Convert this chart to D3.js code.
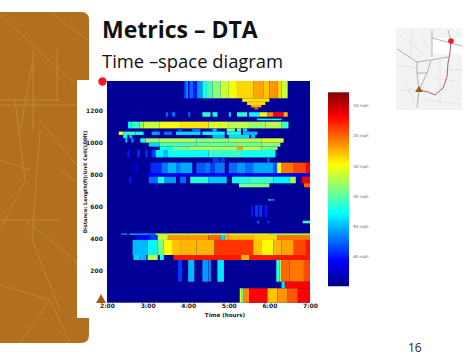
<!DOCTYPE html>
<html lang="en">
<head>
<meta charset="utf-8">
<script src="https://d3js.org/d3.v7.min.js"></script>
<style>
  html, body { margin: 0; padding: 0; background: #fff; overflow: hidden; }
  text { font-family: "Open Sans", sans-serif; }
  .tick text { font-family: "DejaVu Sans", sans-serif; font-weight: bold; }
</style>
</head>
<body>
<script>
// tick labels
const timeTicks = [2, 3, 4, 5, 6, 7];
const distTicks = [200, 400, 600, 800, 1000, 1200];
const speedTicks = [10, 20, 30, 40, 50, 60];

// each congested stretch: [distance from, distance to]
const bandRanges = [
    [1277, 1385], [1255, 1277], [1235, 1255], [1220, 1235], [1208, 1220],
    [1162, 1190], [1140, 1150], [1089, 1131], [1069, 1089], [1048, 1069],
    [1027, 1048], [1000, 1027], [975, 1000], [954, 975], [908, 954],
    [875, 908], [808, 875], [787, 808], [746, 787], [721, 746],
    [637, 648], [537, 610], [496, 512], [423, 433], [392, 423],
    [298, 392], [267, 298], [131, 267], [90, 131], [0, 90]
];

// [hour from, hour to, speed mph], same order as bandRanges
const bandSpeeds = [
    [[3.89,3.95,58],[3.95,4.0,52],[4.0,4.03,63],[4.03,4.13,55],[4.13,4.22,60],[4.22,4.35,52],[4.35,4.46,44],[4.46,4.6,41],[4.6,4.8,37],[4.8,5.0,33],[5.0,5.2,30],[5.2,5.6,27],[5.6,5.85,24],[5.85,6.0,26],[6.0,6.2,23],[6.2,6.3,27],[6.3,6.45,33]],
    [[5.33,6.0,28]],
    [[5.45,5.9,27]],
    [[5.55,5.8,24]],
    [[5.63,5.72,20]],
    [[3.45,3.5,55],[3.6,3.68,55],[4.0,4.05,55],[4.35,4.55,43],[4.6,4.72,44],[5.0,5.05,48],[5.2,5.45,43],[5.5,5.75,46],[5.75,5.95,31],[5.95,6.1,22],[6.1,6.35,14],[6.35,6.45,25]],
    [[5.7,6.3,46]],
    [[2.52,2.6,45],[2.6,2.8,42],[2.8,2.9,36],[2.9,3.3,33],[3.3,3.8,30],[3.8,4.5,28],[4.5,5.0,32],[5.0,5.5,34],[5.5,5.9,36],[5.9,6.3,34],[6.3,6.47,42]],
    [[3.75,3.85,58],[4.1,4.3,55],[4.6,4.7,50],[4.95,5.15,38],[5.2,5.3,40],[5.35,5.45,48]],
    [[2.29,2.4,30],[2.4,2.7,42],[2.7,2.9,44],[3.1,3.3,52],[3.4,3.6,55],[3.7,4.3,48],[4.35,4.9,46],[4.95,5.3,44],[5.35,5.7,50]],
    [[2.4,2.5,45],[2.55,2.62,50],[4.6,4.9,50],[5.0,5.5,48],[5.55,5.65,50]],
    [[2.45,2.5,50],[2.6,2.65,52],[2.82,2.95,44],[2.95,3.3,36],[3.3,4.2,35],[4.2,5.0,37],[5.0,5.8,35],[5.8,6.35,32]],
    [[3.03,3.3,48],[3.3,4.2,41],[4.2,5.2,39],[5.2,5.8,38],[5.8,6.27,37]],
    [[3.3,3.6,44],[3.6,4.0,38],[4.0,5.2,35],[5.2,5.35,24],[5.35,5.8,34],[5.8,6.2,38]],
    [[2.5,2.55,60],[2.75,2.8,58],[2.95,3.0,58],[3.1,3.2,58],[3.2,3.4,46],[3.4,3.5,50],[3.5,4.5,45],[4.5,5.3,42],[5.3,6.15,44]],
    [[4.6,4.75,58],[4.8,4.9,58],[5.95,6.0,55]],
    [[2.7,2.75,62],[3.07,3.35,59],[3.35,3.5,54],[3.5,3.7,50],[3.7,3.8,54],[3.8,4.1,51],[4.2,4.4,56],[4.4,4.55,54],[4.55,4.65,58],[4.65,4.9,54],[5.0,5.2,55],[5.2,5.4,52],[5.4,5.6,55],[5.6,6.1,51],[6.1,6.19,56],[6.19,6.3,30],[6.3,6.6,21],[6.6,6.9,18],[6.9,7,14]],
    [[3.0,7,62]],
    [[2.55,2.6,60],[3.03,3.25,55],[3.25,3.42,44],[3.42,3.7,52],[3.8,3.95,55],[4.05,4.5,43],[4.5,4.95,49],[5.08,5.5,44],[5.5,6.1,42],[6.1,6.5,46],[6.5,6.65,36],[6.8,7,13]],
    [[3.2,3.25,62],[5.25,6.0,38],[6.85,7,20]],
    [[5.97,6.05,50],[6.07,6.12,52]],
    [[5.55,5.6,60],[5.65,5.72,58],[5.75,5.82,58],[5.88,5.95,60]],
    [[5.7,5.75,56],[5.95,6.0,58],[6.82,7,42]],
    [[2.35,2.5,54],[2.55,3.0,52],[3.0,3.2,54],[3.2,4.0,35],[4.0,5.0,34],[5.0,6.0,33],[6.0,7,36]],
    [[2.7,3.05,62],[3.05,3.25,58],[3.25,3.5,33],[3.5,4.5,23],[4.5,4.8,20],[4.8,4.9,48],[4.9,5.0,24],[5.0,5.6,25],[5.6,6.2,27],[6.2,7,21]],
    [[2.63,3.0,50],[3.0,3.25,46],[3.25,3.4,38],[3.4,3.6,30],[3.6,3.8,26],[3.8,4.2,25],[4.2,4.65,25],[4.65,5.6,17],[5.6,5.8,26],[5.8,6.1,30],[6.1,6.3,25],[6.3,6.6,24],[6.6,6.9,18],[6.9,7,15]],
    [[2.65,2.8,48],[2.8,2.97,50],[3.0,3.25,34],[3.3,3.4,44],[3.64,5.3,15],[5.3,5.5,25],[5.5,7,15]],
    [[3.75,3.85,58],[4.0,4.15,50],[4.35,4.5,52],[4.52,4.55,47],[4.72,4.88,47],[6.17,6.25,43],[6.25,6.3,35],[6.3,6.5,20],[6.5,6.85,21],[6.85,7,18]],
    [[6.3,6.38,47],[6.38,7,14]],
    [[5.27,5.32,30],[5.32,5.35,40],[5.35,5.5,22],[5.5,5.95,14],[5.95,6.2,26],[6.2,6.45,23],[6.45,6.7,19],[6.7,7,14]]
];

const width = 474, height = 355;
const svg = d3.select("body").append("svg")
    .attr("width", width).attr("height", height);

// blur the heatmap a little, the picture is a scaled screenshot
svg.append("filter").attr("id", "soft")
    .attr("x", 0).attr("y", 0).attr("width", 1).attr("height", 1)
    .append("feGaussianBlur").attr("stdDeviation", 0.7);

// slide template: orange panel with a faint street map
const panel = svg.append("g");
panel.append("path")
    .attr("d", "M0,12H81Q89,12 89,20V335Q89,343 81,343H0Z")
    .attr("fill", "#b2701f");
const streets = [
    "M0,15L60,70L88,95", "M33,50V130", "M0,105H88", "M0,100H60", "M57,50V100", "M33,60L20,130",
    "M15,100L25,180L0,230", "M40,130L32,240L60,310", "M25,220L75,260L88,300", "M0,285L50,300L70,343",
    "M0,220H60", "M40,120L88,180", "M60,170L88,190", "M50,12L88,40", "M0,160L30,170", "M20,343L50,300"
];
panel.selectAll(".street").data(streets).join("path")
    .attr("class", "street")
    .attr("d", d => d)
    .attr("fill", "none")
    .attr("stroke", "#c08538")
    .attr("stroke-width", 1);
panel.append("rect")
    .attr("x", 77).attr("y", 80).attr("width", 20).attr("height", 238)
    .attr("fill", "#fff");

svg.append("text").attr("x", 102).attr("y", 38)
    .attr("font-size", 23).attr("font-weight", "bold").attr("fill", "#111")
    .text("Metrics – DTA");
svg.append("text").attr("x", 102).attr("y", 68)
    .attr("font-size", 18.4).attr("fill", "#111")
    .text("Time –space diagram");
svg.append("text").attr("x", 408).attr("y", 352)
    .attr("font-size", 12).attr("fill", "#222")
    .text("16");

// scales
const x = d3.scaleLinear().domain([2, 7]).range([107, 310]);
const y = d3.scaleLinear().domain([0, 1385]).range([302.7, 81]);
const speedMin = 5.6, speedMax = 69.6;
const speedColor = d3.scaleLinear()
    .domain([0, 0.125, 0.375, 0.625, 0.875, 1].map(v => speedMax - v * (speedMax - speedMin)))
    .range(["#00008f", "#0000ff", "#00ffff", "#ffff00", "#ff0000", "#800000"]);

// heatmap
const heat = svg.append("g").attr("filter", "url(#soft)");
heat.append("rect")
    .attr("x", x(2)).attr("y", y(1385))
    .attr("width", x(7) - x(2)).attr("height", y(0) - y(1385))
    .attr("fill", speedColor(69));

bandRanges.forEach(function(r, i) {
    heat.append("g").selectAll("rect").data(bandSpeeds[i]).join("rect")
        .attr("x", d => x(d[0]))
        .attr("y", y(r[1]))
        .attr("width", d => x(d[1]) - x(d[0]))
        .attr("height", y(r[0]) - y(r[1]))
        .attr("fill", d => speedColor(d[2]));
});

// axes
const xAxis = svg.append("g")
    .attr("transform", "translate(0,302.7)")
    .call(d3.axisBottom(x).tickValues(timeTicks).tickSize(0).tickFormat(d => d + ":00"));
xAxis.select(".domain").remove();
xAxis.selectAll("text").attr("font-size", 6).attr("fill", "#222").attr("dy", "0.45em");

const yAxis = svg.append("g")
    .attr("transform", "translate(107,0)")
    .call(d3.axisLeft(y).tickValues(distTicks).tickSize(0).tickFormat(d3.format("d")));
yAxis.select(".domain").remove();
yAxis.selectAll("text").attr("font-size", 6).attr("fill", "#222").attr("dx", "-0.2em");

svg.append("text").attr("x", 225).attr("y", 316.5)
    .attr("text-anchor", "middle")
    .style("font-family", "'DejaVu Sans', sans-serif")
    .attr("font-size", 5.6).attr("font-weight", "bold").attr("fill", "#222")
    .text("Time (hours)");
svg.append("text")
    .attr("transform", "translate(87,182) rotate(-90)")
    .attr("text-anchor", "middle")
    .style("font-family", "'DejaVu Sans', sans-serif")
    .attr("font-size", 5).attr("font-weight", "bold").attr("fill", "#222")
    .text("Distance: Length(ft)/Unit Cell(100ft)");

// end markers of the route
svg.append("circle").attr("cx", 102.5).attr("cy", 81.5).attr("r", 4.2).attr("fill", "#ee1c25");
svg.append("path").attr("d", "M96,303L101,294L106,303Z").attr("fill", "#a5581c");

// colour bar
const legend = d3.scaleLinear().domain([speedMin, speedMax]).range([92.3, 285]);
svg.append("g").selectAll("rect").data(d3.range(speedMin, speedMax, 0.25)).join("rect")
    .attr("x", 328).attr("width", 21)
    .attr("y", d => legend(d))
    .attr("height", legend(0.75) - legend(0.25) + 0.5)
    .attr("fill", d => speedColor(d));
const legendAxis = svg.append("g")
    .attr("transform", "translate(349,0)")
    .call(d3.axisRight(legend).tickValues(speedTicks).tickSize(0).tickFormat(d => d + " mph"));
legendAxis.select(".domain").remove();
legendAxis.selectAll("text")
    .style("font-weight", "normal")
    .attr("font-size", 4).attr("fill", "#666").attr("dx", "0.3em");

// location map, top right
const map = svg.append("g");
map.append("rect").attr("x", 396).attr("y", 28).attr("width", 66).attr("height", 82).attr("fill", "#f3f3f1");
map.append("rect").attr("x", 432).attr("y", 38).attr("width", 30).attr("height", 16).attr("fill", "#fff");
const mapFaint = [
    "M400,35L425,55", "M405,80L415,105", "M440,60V105", "M425,100L460,104", "M400,90H418", "M445,70H462",
    "M412,30L410,60", "M398,65L416,68", "M450,85L462,95", "M420,35L430,50", "M400,100L412,88", "M434,78L460,82"
];
map.selectAll(".faint").data(mapFaint).join("path")
    .attr("class", "faint").attr("d", d => d)
    .attr("fill", "none").attr("stroke", "#d9dbd8").attr("stroke-width", 0.6);
const mapRoads = [
    "M397,49L417,62L430,60", "M432,30V57", "M432,38L462,46", "M448,30L451,41",
    "M417,62V73H427L431,60", "M427,73L419,90L417,108", "M417,73L419,90", "M431,60L448,57"
];
map.selectAll(".road").data(mapRoads).join("path")
    .attr("class", "road").attr("d", d => d)
    .attr("fill", "none").attr("stroke", "#9aa5a0").attr("stroke-width", 0.8);
map.append("path")
    .attr("d", "M451,41L450,53L448,63L447,77L443,88L435,95L428,92L419,90")
    .attr("fill", "none").attr("stroke", "#b85a70").attr("stroke-width", 1);
map.append("circle").attr("cx", 451).attr("cy", 41).attr("r", 2.8).attr("fill", "#ee1c25");
map.append("path").attr("d", "M415,92L419,86L423,92Z").attr("fill", "#a5581c");
</script>
</body>
</html>
